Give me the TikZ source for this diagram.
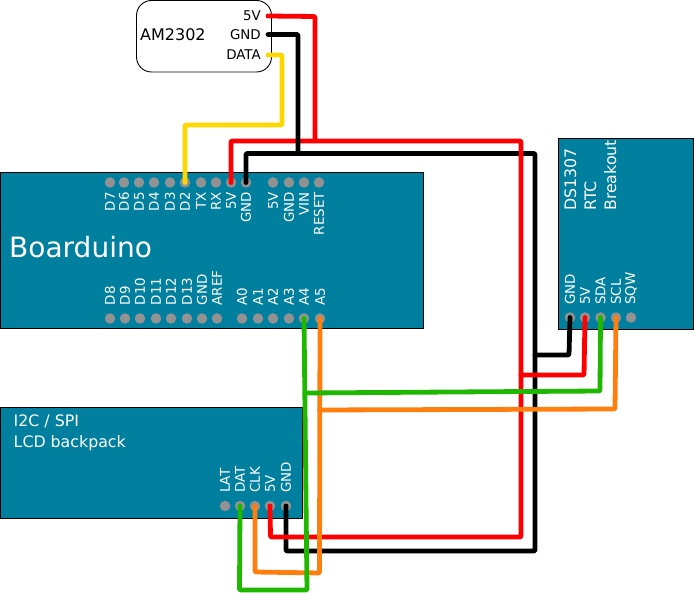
\documentclass[tikz,border=0pt]{standalone}
\usepackage{fontspec}
\setmainfont{DejaVu Sans}
\definecolor{board}{RGB}{0,127,159}
\definecolor{pingray}{RGB}{146,146,146}
\definecolor{wred}{RGB}{255,0,0}
\definecolor{wgreen}{RGB}{31,183,0}
\definecolor{worange}{RGB}{255,127,14}
\definecolor{wyellow}{RGB}{255,215,0}
\tikzset{
  x=1pt,y=-1pt,
  board/.style={draw=black,line width=0.9pt,fill=board},
  pin/.style={circle,fill=pingray,minimum size=10.5pt,inner sep=0pt},
  pintext/.style={text=white,font=\fontsize{13.4}{13.4}\selectfont,rotate=90,inner sep=0pt},
  plab/.style={pintext,anchor=east},
  plabb/.style={pintext,anchor=west},
  title/.style={text=white,font=\fontsize{15.8}{15.8}\selectfont,inner sep=0pt},
  sens/.style={text=black,font=\fontsize{13.4}{13.4}\selectfont,inner sep=0pt,anchor=east},
  wire/.style={line width=4.8pt,line cap=round,line join=round,rounded corners=1pt},
}
\begin{document}
\begin{tikzpicture}
\useasboundingbox (0,0) rectangle (694,593);
% boards
\draw[board] (0.4,172.8) rectangle (423.2,328);
\draw[board] (558.6,138) rectangle (693.5,329);
\draw[board] (0.4,407.3) rectangle (302,518);
\draw[black,line width=0.9pt,fill=white,rounded corners=15pt] (136.5,0.5) rectangle (271.5,72);
% titles
\node[text=white,font=\fontsize{28}{28}\selectfont,anchor=base west,inner sep=0pt] (boarduino) at (9,258) {Boarduino};
\node[title,anchor=base west] (lcd1) at (13.5,427) {I2C / SPI};
\node[title,anchor=base west] (lcd2) at (13.5,448) {LCD backpack};
\node[title,anchor=base west,rotate=90] (rtc1) at (576,211) {DS1307};
\node[title,anchor=base west,rotate=90] (rtc2) at (596,211) {RTC};
\node[title,anchor=base west,rotate=90] (rtc3) at (616,211) {Breakout};
\node[text=black,font=\fontsize{16}{16}\selectfont,anchor=base west,inner sep=0pt] (am) at (140,41) {AM2302};
\node[sens] (s5) at (261,16) {5V};
\node[sens] (sg) at (261,35) {GND};
\node[sens] (sd) at (261,55) {DATA};
% sensor wire ends
\coordinate (e5) at (268,16);
\coordinate (eg) at (268,34.5);
\coordinate (ed) at (268,55);
% Arduino top pins
\foreach \n/\x/\t in {D7/110/D7,D6/124/D6,D5/139/D5,D4/154/D4,D3/170/D3,D2/185/D2,TX/201/TX,RX/216/RX,V/231/5V,G/246/GND,Vb/273/5V,Gb/289/GND,VIN/304/VIN,RESET/319/RESET}{
  \node[pin] (u\n) at (\x,182.5) {};
  \node[plab] (ut\n) at (\x,192) {\t};
}
% Arduino bottom pins
\foreach \n/\x/\t in {D8/110/D8,D9/125/D9,D10/140/D10,D11/156/D11,D12/171/D12,D13/187/D13,G/202/GND,AREF/217/AREF,A0/242/A0,A1/258/A1,A2/273/A2,A3/289/A3,A4/304/A4,A5/320/A5}{
  \node[pin] (b\n) at (\x,318.5) {};
  \node[plabb] (bt\n) at (\x,305.5) {\t};
}
% RTC pins
\foreach \n/\x/\t in {G/570/GND,V/585/5V,SDA/600.5/SDA,SCL/616/SCL,SQW/631/SQW}{
  \node[pin] (r\n) at (\x,317.5) {};
  \node[plabb] (rt\n) at (\x,305) {\t};
}
% LCD pins
\foreach \n/\x/\t in {LAT/225/LAT,DAT/240/DAT,CLK/255/CLK,V/270/5V,G/286/GND}{
  \node[pin] (l\n) at (\x,506) {};
  \node[plabb] (lt\n) at (\x,493) {\t};
}
% junctions
\coordinate (jr1) at (315,140.5);
\coordinate (jb1) at (298,153.5);
\coordinate (jr2) at (521,375);
\coordinate (jb2) at (535,355);
\coordinate (jg) at (305,393);
\coordinate (jo) at (319.5,410);
% wires
\draw[wire,black] (uG.center) -- (246,153.5) -- (535,153.5) -- (535,551) -- (286,551) -- (lG.center);
\draw[wire,black] (rG.center) -- (569,355) -- (jb2);
\draw[wire,wred] (uV.center) -- (231,141) -- (521,141) -- (521,537) -- (270.5,537) -- (lV.center);
\draw[wire,wred] (rV.center) -- (584,375) -- (jr2);
\draw[wire,wred] (e5) -- (315,16.5) -- (jr1);
\draw[wire,black] (eg) -- (298,34.5) -- (jb1);
\draw[wire,wyellow] (ed) -- (282,55) -- (282,125) -- (185,125) -- (uD2.center);
\draw[wire,worange] (bA5.center) -- (319.5,573) -- (255,572) -- (lCLK.center);
\draw[wire,worange] (rSCL.center) -- (615,409) -- (jo);
\draw[wire,wgreen] (bA4.center) -- (307,590) -- (239.5,590) -- (lDAT.center);
\draw[wire,wgreen] (rSDA.center) -- (600,391) -- (jg);
\end{tikzpicture}
\end{document}
